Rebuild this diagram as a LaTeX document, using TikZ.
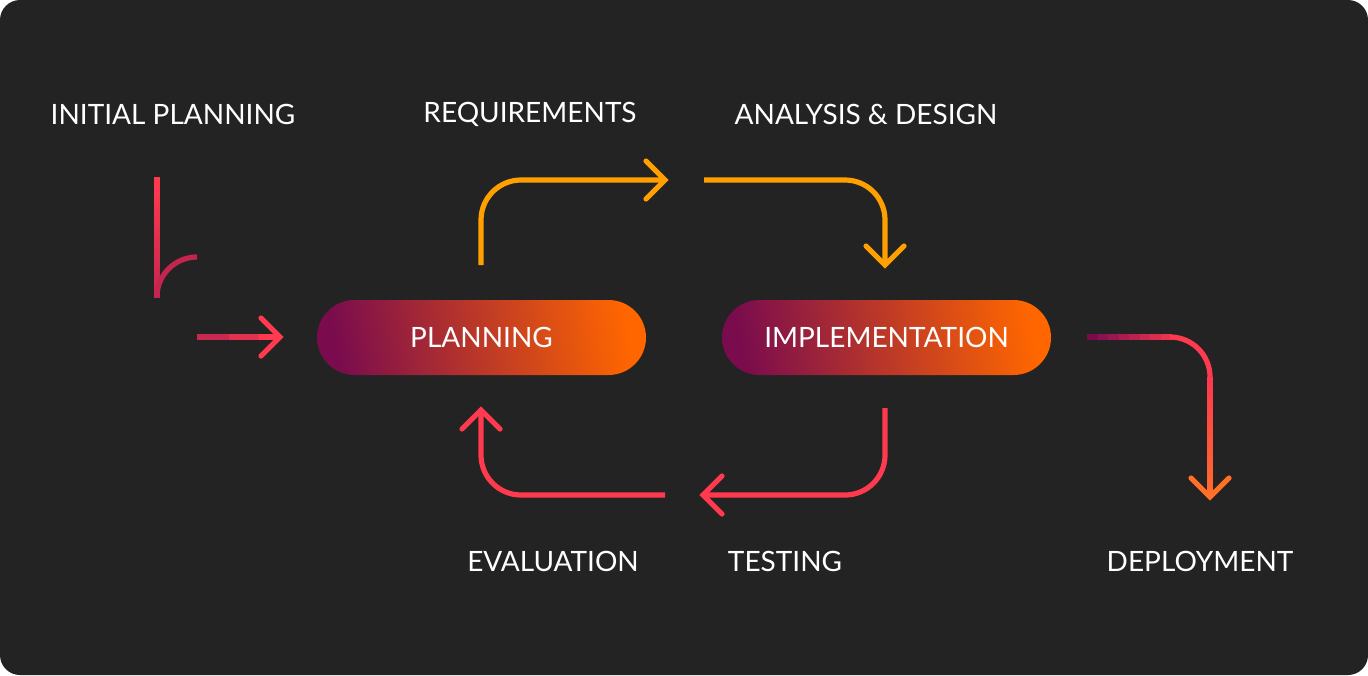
\documentclass[tikz,border=0pt]{standalone}
\usepackage{fontspec}
\setmainfont{Lato}
\definecolor{bg}{HTML}{232323}
\definecolor{purp}{HTML}{7A0C4E}
\definecolor{redc}{HTML}{FF3A4F}
\definecolor{orng}{HTML}{FF7A1F}
\definecolor{yel}{HTML}{FFA000}
\tikzset{
  lbl/.style={text=white,font=\fontsize{14}{16}\selectfont},
  pill/.style={rounded corners=18.75pt,minimum width=164.5pt,minimum height=37.5pt,text=white,font=\fontsize{14}{16}\selectfont},
  arr/.style={line width=2.6pt,line cap=butt,line join=round},
  tip/.style={line width=2.6pt,line cap=round,line join=miter},
}
\begin{document}
\begin{tikzpicture}[x=0.5pt,y=-0.5pt]
\useasboundingbox (0,0) rectangle (1368,675);
\fill[white] (0,0) rectangle (1368,675);
\fill[bg,rounded corners=10pt] (0,0) rectangle (1368,675);
% pills
\shade[left color=purp,middle color=redc!90!purp,right color=orange!80!red,rounded corners=18.75pt,shading angle=100] (317,300) rectangle (646,375);
\shade[left color=purp,middle color=redc!90!purp,right color=orange!80!red,rounded corners=18.75pt,shading angle=100] (722,300) rectangle (1051,375);
\node[pill] (plan) at (481.5,337.5) {PLANNING};
\node[pill] (impl) at (886.5,337.5) {IMPLEMENTATION};
% labels
\node[lbl] (l1) at (173,114) {INITIAL PLANNING};
\node[lbl] (l2) at (530,114) {REQUIREMENTS};
\node[lbl] (l3) at (866,114) {ANALYSIS \& DESIGN};
\node[lbl] (l4) at (553,561) {EVALUATION};
\node[lbl] (l5) at (785,561) {TESTING};
\node[lbl] (l6) at (1200,561) {DEPLOYMENT};
% arrow 1 gradient
\foreach \i in {0,...,11}{
  \pgfmathsetmacro\p{100-\i*4}
  \draw[arr,color=redc!\p!purp!100] (157,{177+\i*10}) -- (157,{187+\i*10+1});
}
\draw[arr,color=redc!55!purp] (157,297) arc[start angle=180,end angle=90,x radius=40,y radius=-40];
\draw[arr,color=redc!60!purp] (197,337) -- (230,337);
\draw[arr,color=redc!80!purp] (229,337) -- (260,337);
\draw[arr,color=redc] (259,337) -- (280,337);
\draw[tip,color=redc] (261,318) -- (280,337) -- (261,356);
% arrow 2 requirements
\draw[arr,yel] (481,265) -- (481,220) arc[start angle=180,end angle=90,x radius=40,y radius=-40] -- (664,180);
\draw[tip,yel] (646,161) -- (665,180) -- (646,199);
% arrow 3 analysis
\draw[arr,yel] (704,180) -- (845,180) arc[start angle=90,end angle=0,x radius=40,y radius=-40] -- (885,264);
\draw[tip,yel] (866,246) -- (885,265) -- (904,246);
% arrow 4 testing
\draw[arr,redc] (885,408) -- (885,455) arc[start angle=0,end angle=-90,x radius=40,y radius=-40] -- (704,495);
\draw[tip,redc] (722,476) -- (703,495) -- (722,514);
% arrow 5 evaluation
\draw[arr,redc] (665,495) -- (521,495) arc[start angle=270,end angle=180,x radius=40,y radius=-40] -- (481,411);
\draw[tip,redc] (462,429) -- (481,410) -- (500,429);
% arrow 6 deployment gradient
\foreach \i in {0,...,7}{
  \pgfmathsetmacro\p{\i*12}
  \draw[arr,color=redc!\p!purp] ({1087+\i*10.5},337) -- ({1098.5+\i*10.5},337);
}
\draw[arr,color=redc] (1170,337) arc[start angle=90,end angle=0,x radius=40,y radius=-40];
\foreach \i in {0,...,11}{
  \pgfmathsetmacro\p{\i*7}
  \draw[arr,color=orng!\p!redc] (1210,{377+\i*10}) -- (1210,{388+\i*10});
}
\draw[tip,color=orng!85!redc] (1191,478) -- (1210,497) -- (1229,478);
\end{tikzpicture}
\end{document}
